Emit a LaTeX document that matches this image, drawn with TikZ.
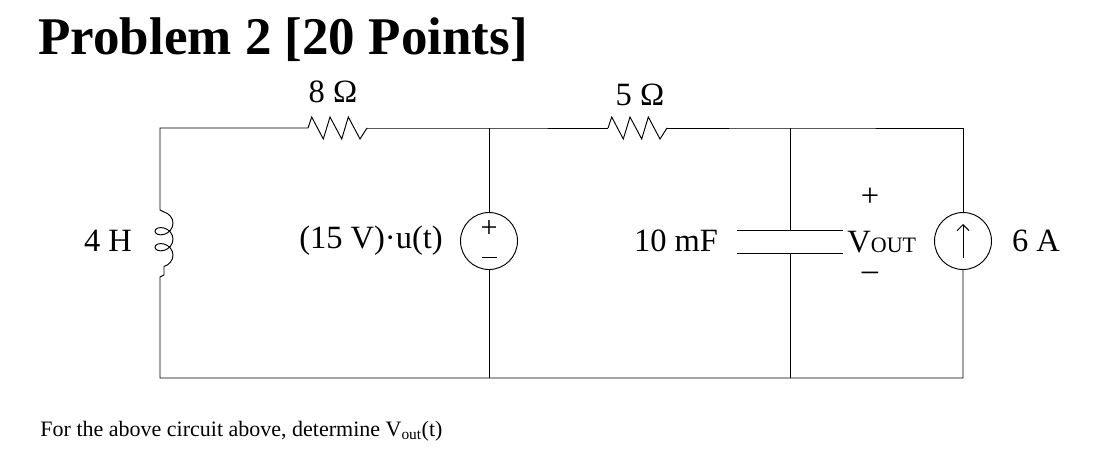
\documentclass[tikz,border=0pt]{standalone}
\usepackage{fontspec}
\setmainfont{Liberation Serif}
\usetikzlibrary{decorations.pathmorphing,arrows.meta}
\begin{document}
\begin{tikzpicture}[x=1pt,y=-1pt,line width=0.95pt,
  lbl/.style={font=\fontsize{32.5}{33}\selectfont,inner sep=0pt},
  src/.style={draw,circle,minimum size=57pt,inner sep=0pt}]
\useasboundingbox (0,0) rectangle (1115,460);
\node[anchor=base west,inner sep=0pt,font=\fontsize{53}{55}\selectfont\bfseries] (title) at (38,55) {Problem 2 [20 Points]};
\node[anchor=base west,inner sep=0pt,font=\fontsize{22}{24}\selectfont] (q) at (40,436) {For the above circuit above, determine V\textsubscript{out}(t)};
% corners
\coordinate (tl) at (160,128); \coordinate (bl) at (160,378);
\coordinate (tm) at (489,128); \coordinate (bm) at (489,378);
\coordinate (tc) at (790,128); \coordinate (bc) at (790,378);
\coordinate (tr) at (963,128); \coordinate (br) at (963,378);
\coordinate (r1a) at (308,128); \coordinate (r1b) at (367,128);
\coordinate (r2a) at (608,128); \coordinate (r2b) at (667,128);
\coordinate (la) at (160,210); \coordinate (lb) at (160,277);
\coordinate (ka) at (164,212); \coordinate (kb) at (164,275);
\node[src] (vs) at (489,241) {};
\node[src] (cs) at (963,241) {};
\coordinate (c1) at (790,230); \coordinate (c2) at (790,253);
% wires
\draw (r1a) -- (tl) -- (la) -- (ka);
\draw (kb) -- (lb) -- (bl) -- (br) -- (cs.south);
\draw (r1b) -- (tm) -- (r2a);
\draw (tm) -- (vs.north); \draw (vs.south) -- (bm);
\draw (r2b) -- (tc) -- (tr) -- (cs.north);
\draw (tc) -- (c1); \draw (c2) -- (bc);
% resistors
\draw (r1a) -- ++(3.7,-11) -- ++(11.6,22) -- ++(6.7,-22) -- ++(11.7,22) -- ++(6.6,-22) -- ++(11.7,22) -- (r1b);
\draw (r2a) -- ++(3.7,-11) -- ++(11.6,22) -- ++(6.7,-22) -- ++(11.7,22) -- ++(6.6,-22) -- ++(11.7,22) -- (r2b);
% inductor
\draw[decorate,decoration={coil,aspect=0.8,segment length=16,amplitude=9}] (ka) -- (kb);
% capacitor
\draw (737,230) -- (843,230);
\draw (737,253) -- (843,253);
% source symbols
\node[font=\fontsize{30}{30}\selectfont,inner sep=0pt] at (489,229) {+};
\draw[line width=0.8pt] (482,257) -- (497,257);
\draw[-{Straight Barb[length=6pt,width=12pt]},line width=0.9pt] (963,258) -- (963,224);
% labels
\node[lbl] (l8) at (333,92) {8 Ω};
\node[lbl] (l5) at (640,95) {5 Ω};
\node[lbl] (l4) at (108,241) {4 H};
\node[lbl] (lv) at (371,241) {(15 V)·u(t)};
\node[lbl] (lc) at (676,241) {10 mF};
\node[lbl,anchor=base west] (lo) at (847,252) {V\fontsize{22}{22}\selectfont OUT};
\node[lbl] (lp) at (870,197) {+};
\node[lbl] (lm) at (870,276) {–};
\node[lbl] (la6) at (1036,241) {6 A};
\end{tikzpicture}
\end{document}
